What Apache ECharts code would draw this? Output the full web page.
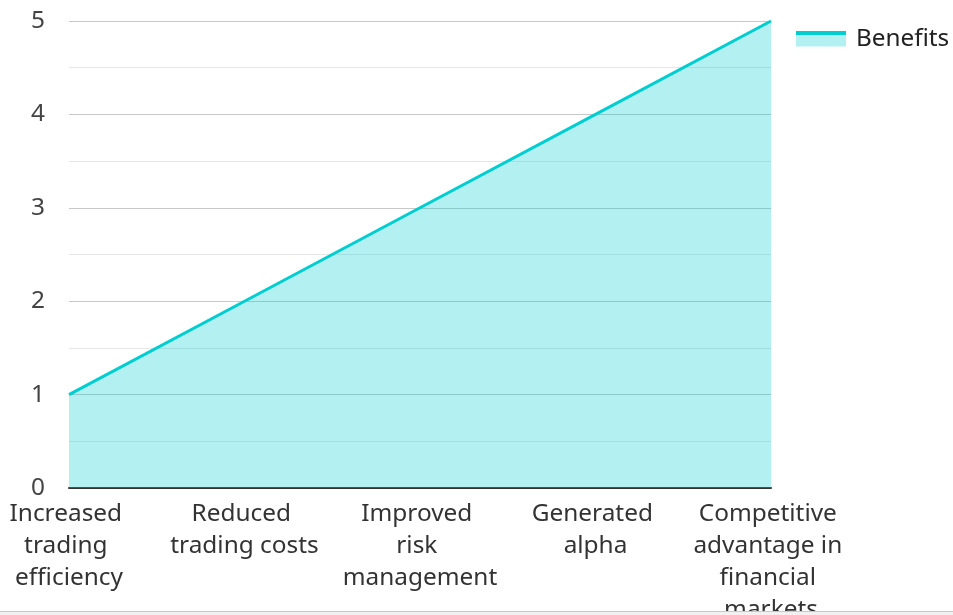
<!DOCTYPE html>
<html>
<head>
<meta charset="utf-8">
<script src="https://cdn.jsdelivr.net/npm/echarts@6/dist/echarts.min.js"></script>
<style>
html,body{margin:0;padding:0;background:#fff;overflow:hidden;}
#chart{width:953px;height:611px;}
#foot{height:4px;border-top:1px solid #c8c8c8;background:#f1f1f1;}
</style>
</head>
<body>
<div id="chart"></div>
<div id="foot"></div>
<script>
const categories = ["Increased trading efficiency","Reduced trading costs","Improved risk management","Generated alpha","Competitive advantage in financial markets"];
const benefitValues = [1, 2, 3, 4, 5];
const seriesName = "Benefits";

const chart = echarts.init(document.getElementById('chart'), null, {renderer:'canvas'});
const font = "'Noto Sans', sans-serif";
chart.setOption({
  animation:false,
  textStyle:{fontFamily:font},
  grid:{left:69,right:182,top:21,bottom:123,containLabel:false,outerBoundsMode:'none'},
  legend:{
    data:[seriesName],
    left:791,top:22,
    itemWidth:50,itemHeight:15,itemGap:10,
    icon:'rect',
    itemStyle:{color:'rgba(0,206,209,0.3)'},
    textStyle:{fontFamily:font,fontSize:24.3,color:'#222',padding:[0,0,0,5]}
  },
  xAxis:{
    type:'category',data:categories,boundaryGap:false,
    axisLine:{lineStyle:{color:'#333',width:2}},
    axisTick:{show:false},
    axisLabel:{fontFamily:font,fontSize:24.4,color:'#333',lineHeight:32,margin:10,width:157,overflow:'break',interval:0}
  },
  yAxis:{
    type:'value',min:0,max:5,interval:1,
    axisLine:{show:false},axisTick:{show:false},
    axisLabel:{fontFamily:font,fontSize:24.4,color:'#444',margin:24},
    splitLine:{lineStyle:{color:'#c8c8c8',width:1}},
    minorTick:{show:false,splitNumber:2},
    minorSplitLine:{show:true,lineStyle:{color:'#e6e6e6',width:1}}
  },
  series:[{
    name:seriesName,type:'line',data:benefitValues,
    symbol:'none',
    lineStyle:{color:'#00ced1',width:3},
    itemStyle:{color:'#00ced1'},
    areaStyle:{color:'#00ced1',opacity:0.3}
  }]
});
chart.setOption({graphic:[{type:'rect',shape:{x:796,y:31,width:50,height:4},style:{fill:'#00ced1'},silent:true}]});
</script>
</body>
</html>
